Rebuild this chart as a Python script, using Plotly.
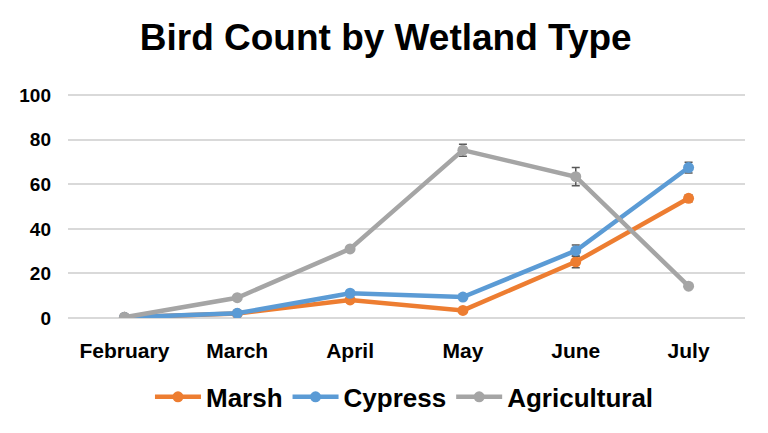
import plotly.graph_objects as go

# Monthly bird counts per wetland type
months = ["February", "March", "April", "May", "June", "July"]
marsh = [0.3, 2.0, 8.1, 3.4, 25.2, 53.7]
cypress = [0.3, 2.1, 11.1, 9.4, 30.2, 67.5]
agricultural = [0.3, 9.1, 31.0, 75.3, 63.4, 14.3]

# Error bar half-widths (0 where none is drawn)
marsh_err = [0, 0, 0, 0, 2.6, 1.5]
cypress_err = [0, 0, 0, 0, 2.5, 2.4]
agricultural_err = [0, 0, 0, 2.7, 4.1, 1.0]

series = [
    ("Marsh", marsh, marsh_err, "#ED7D31"),
    ("Cypress", cypress, cypress_err, "#5B9BD5"),
    ("Agricultural", agricultural, agricultural_err, "#A5A5A5"),
]

font_family = "Liberation Sans, Arial, sans-serif"

fig = go.Figure()
for name, values, errs, color in series:
    fig.add_trace(go.Scatter(
        x=months,
        y=values,
        name=name,
        mode="lines+markers",
        line=dict(color=color, width=4.5),
        marker=dict(color=color, size=11),
        error_y=dict(type="data", array=errs, visible=True,
                     color="#595959", thickness=1.5, width=4),
    ))

# page body adds an 8px margin, so the figure is 8px smaller than the window
fig.update_layout(
    width=760,
    height=425,
    paper_bgcolor="white",
    plot_bgcolor="white",
    margin=dict(l=60, r=23, t=86, b=115),
    title=dict(
        text="Bird Count by Wetland Type",
        x=0.497, xanchor="center",
        y=0.932, yanchor="middle",
        font=dict(family=font_family, size=37, color="black", weight="bold"),
    ),
    font=dict(family=font_family, color="black"),
    showlegend=True,
    legend=dict(
        orientation="h",
        x=0.497, xanchor="center",
        yref="container", y=0.085, yanchor="middle",
        font=dict(size=26, family=font_family, color="black", weight="bold"),
        itemwidth=46,
    ),
    xaxis=dict(
        type="category",
        range=[-0.5, 5.5],
        showgrid=False,
        showline=False,
        zeroline=False,
        tickfont=dict(size=21, family=font_family, color="black", weight="bold"),
        ticklabelstandoff=18,
    ),
    yaxis=dict(
        range=[0, 100.5],
        tickvals=[0, 20, 40, 60, 80, 100],
        showgrid=True,
        gridcolor="#D9D9D9",
        gridwidth=1.5,
        zeroline=True,
        zerolinecolor="#D9D9D9",
        zerolinewidth=1.5,
        tickfont=dict(size=19, family=font_family, color="black", weight="bold"),
        ticklabelstandoff=16,
    ),
)

fig.write_html("out.html")
